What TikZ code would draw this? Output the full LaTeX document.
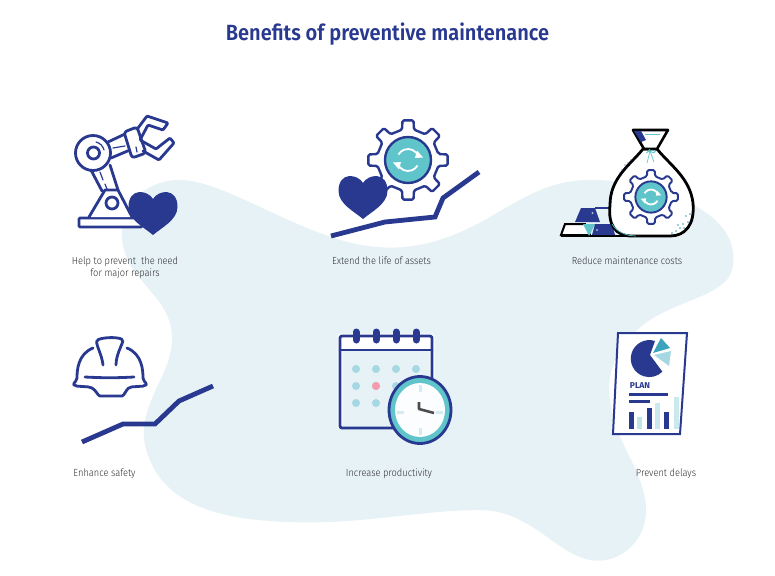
\documentclass[tikz,border=0pt]{standalone}
\usepackage{fontspec}
\setmainfont{Fira Sans}
\newfontfamily\lightfont[FakeStretch=0.9]{Fira Sans Light}
\newfontfamily\titlefont[FakeStretch=0.91]{Fira Sans SemiBold}
\definecolor{navy}{HTML}{28398F}
\definecolor{blob}{HTML}{E6F2F6}
\definecolor{tealfill}{HTML}{5FC5CB}
\definecolor{paleblue}{HTML}{A6D8E3}
\definecolor{midteal}{HTML}{3BA3BC}
\definecolor{pinkdot}{HTML}{F79AAE}
\definecolor{labelgray}{HTML}{303030}
\tikzset{
  >=latex,
  label/.style={text=labelgray, font=\lightfont\fontsize{10.3}{12}\selectfont, align=center, inner sep=0pt},
  icon/.style={draw=navy, line width=2.8pt, line join=round, line cap=round},
  thinicon/.style={draw=navy, line width=1.2pt, line cap=round},
  graphline/.style={draw=navy, line width=4.8pt, line join=miter},
  heart/.pic={
    \fill[navy] (0,-1) .. controls (5,-10) and (24.5,-13) .. (24.5,7)
      .. controls (24.5,20) and (8,28) .. (0,35)
      .. controls (-8,28) and (-24.5,20) .. (-24.5,7)
      .. controls (-24.5,-13) and (-5,-10) .. (0,-1) -- cycle;
  },
  gearicon/.pic={
    \draw[draw=navy, fill=white, rounded corners=1.5pt, line join=round]
      (-11:31) \foreach \a in {0,45,...,315} {
        -- ({\a-11}:31) -- ({\a-8}:40) -- ({\a+8}:40) -- ({\a+11}:31) }
      -- cycle;
    \draw[draw=navy, fill=tealfill] (0,0) circle [radius=23pt];
    \draw[white, line width=1.8pt] (0,0) ++(20:11pt) arc [start angle=20, end angle=150, radius=11pt];
    \draw[white, line width=1.8pt] (0,0) ++(200:11pt) arc [start angle=200, end angle=330, radius=11pt];
    \fill[white] (9,-9.5) -- (15,-2.5) -- (7,-2) -- cycle;
    \fill[white] (-9,9.5) -- (-15,2.5) -- (-7,2) -- cycle;
  },
}
\begin{document}
\begin{tikzpicture}[x=1pt, y=-1pt]
\useasboundingbox (0,0) rectangle (775,575);
\fill[white] (0,0) rectangle (775,575);

% background
\fill[blob] (180,180) .. controls (215,180) and (270,215) .. (320,233)
  .. controls (370,252) and (420,258) .. (490,217)
  .. controls (525,197) and (550,180) .. (590,180)
  .. controls (630,180) and (665,190) .. (695,206)
  .. controls (725,222) and (738,245) .. (732,270)
  .. controls (725,295) and (680,300) .. (650,320)
  .. controls (620,340) and (605,370) .. (610,400)
  .. controls (615,445) and (645,470) .. (646,510)
  .. controls (646,545) and (615,565) .. (590,560)
  .. controls (555,553) and (530,510) .. (480,510)
  .. controls (420,510) and (360,525) .. (290,522)
  .. controls (220,520) and (165,505) .. (148,455)
  .. controls (130,410) and (175,375) .. (172,335)
  .. controls (170,295) and (125,280) .. (122,238)
  .. controls (120,205) and (145,180) .. (180,180) -- cycle;

\node [font=\titlefont\fontsize{22}{26}\selectfont, text=navy, inner sep=0pt] (title) at (387.5,34.5) {Benefits of preventive maintenance};

\node [label] (repairs) at (125,267.5) {Help to prevent\ \ the need\\for major repairs};
\node [label] (assets)  at (381.5,261) {Extend the life of assets};
\node [label] (costs)   at (627,261) {Reduce maintenance costs};
\node [label] (safety)  at (104.5,474) {Enhance safety};
\node [label] (product) at (389,474) {Increase productivity};
\node [label] (delays)  at (666,474) {Prevent delays};

% robot arm
\draw [icon, fill=white, rounded corners=1pt] (79,227) -- (79,218) -- (142,218) -- (142,227) -- cycle;
\draw [icon, fill=white] (89,217) -- (105,190) -- (118,190) -- (132,217);
\draw [icon] (112,203) circle [radius=6pt];
\draw [icon] (91,170) -- (102,191);
\draw [icon] (110,165) -- (118,190);
\draw [thinicon] (100,172) -- (103,180);
\draw [thinicon] (105,184) -- (107,189);
\draw [icon] (108,142) -- (125,134);
\draw [icon] (111,158) -- (130,150);
\draw [thinicon] (113,148) -- (125,146);
\draw [icon] (93,153) circle [radius=17.5pt];
\draw [icon] (93.5,153) circle [radius=6pt];
\draw [thinicon] (96,142) .. controls (100,143) and (103,146) .. (104,150);
\draw [icon, fill=white, rounded corners=3pt] (124,132) -- (137,127) -- (146,153) -- (132,158) -- cycle;
\draw [thinicon] (136,147) -- (137,152);
\draw [icon, rounded corners=1pt] (138,128) -- (147,116) -- (168,123) -- (163,130) -- (148,125) -- (140,140)
  -- (156,149) -- (170,138) -- (174,143) -- (159,160) -- (143,151);
\pic at (153,200) {heart};

% gear and rising line
\draw [graphline] (331,236) -- (385,222) -- (435,217) -- (443,198) -- (479,172);
\pic [line width=2.4pt] at (408,160) {gearicon};
\pic at (363,184) {heart};

% money bag
\draw [black, line width=2pt] (560.5,235.5) -- (636,235.5);
\draw [line width=2pt, fill=white] (561,235) -- (565,224) -- (585,224) -- (590,235) -- cycle;
\fill [navy] (575,222) -- (581,208) -- (595,208) -- (600,222) -- cycle;
\draw [navy, line width=1.5pt] (595,208) -- (612,208);
\fill [tealfill] (583,224) -- (595,224) -- (589,236) -- cycle;
\fill [navy] (592,235) -- (595,224) -- (612,224) -- (615,235) -- cycle;
\draw [black, line width=2.8pt, fill=white, line join=round] (643,149) .. controls (630,165) and (610,178) .. (610,205)
  .. controls (608,225) and (615,236) .. (632,236)
  -- (670,236) .. controls (685,236) and (695,225) .. (693,203)
  .. controls (690,178) and (670,165) .. (657,149) -- cycle;
\draw [black, line width=2.6pt, fill=white, line join=round] (633,130) -- (668,130) -- (657,149) -- (644,149) -- cycle;
\fill [navy] (634,131) -- (641,131) -- (646,140) -- (641,142) -- cycle;
\draw [tealfill, line width=.7pt] (645,134) -- (660,134);
\draw [tealfill, line width=.7pt] (650,149) .. controls (644,156) and (646,152) .. (650,151) .. controls (658,148) and (656,156) .. (650,151);
\draw [tealfill, line width=.7pt] (650,151) -- (647,163);
\draw [tealfill, line width=.7pt] (650,151) -- (654,162);
\draw [tealfill, line width=.7pt] (612,224) .. controls (616,231) and (625,236) .. (636,236);
\foreach \p in {(683,224),(688,222),(680,228),(676,231),(686,216),(672,233),(684,228),(690,214),(678,225)}
  \fill [midteal] \p circle [radius=.8pt];
\foreach \p in {(625,165),(628,163),(622,170),(631,160),(626,168),(620,173)}
  \fill [navy] \p circle [radius=.7pt];
\foreach \px/\py/\n in {592.5/214/plusa,578.5/228/plusb,597/231/plusc}
  \node [text=white, font=\fontsize{6}{6}\selectfont, inner sep=0pt] (\n) at (\px,\py) {+};
\pic [scale=0.68, line width=1.9pt] at (651,197) {gearicon};

% helmet
\draw [icon, rounded corners=2pt] (93,348) .. controls (78,354) and (77,370) .. (77,380)
  -- (73,384) -- (75,386) -- (90,387) .. controls (96,390) and (98,396) .. (102,396)
  -- (120,396) .. controls (124,396) and (126,390) .. (130,387) -- (145,386) -- (147,384) -- (143,380)
  .. controls (143,370) and (142,354) .. (127,348);
\draw [icon, rounded corners=1.5pt] (103,365) .. controls (102,355) and (96,345) .. (97,340)
  .. controls (105,337) and (118,337) .. (123,340) .. controls (122,345) and (116,355) .. (116,365);
\draw [icon] (85,377) .. controls (105,378) and (115,378) .. (134,377);
\draw [graphline] (82,442) -- (123,424) -- (155,424) -- (179,401) -- (213,386);

% calendar
\draw [white, line width=5pt, rounded corners=2pt] (340,428) -- (340,336) -- (432,336) -- (432,400);
\fill [white, rounded corners=2pt] (340,336) rectangle (432,350);
\draw [icon, rounded corners=2pt] (395,428) -- (340,428) -- (340,336) -- (432,336) -- (432,385);
\draw [icon] (340,350) -- (432,350);
\foreach \x in {356,376,396,416} {
  \draw [navy, line width=7pt, line cap=round] (\x,332) -- (\x,340);
  \foreach \y in {369,386,403}
    \fill [paleblue] (\x,\y) circle [radius=4pt];
}
\fill [pinkdot] (376,386) circle [radius=4pt];
\draw [draw=navy, line width=2.8pt, fill=tealfill] (420,410) ellipse [x radius=31pt, y radius=33.5pt];
\fill [white!85!blob] (420,410) ellipse [x radius=25pt, y radius=27pt];
\foreach \xa/\ya/\xb/\yb in {420/385/420/392, 420/428/420/435, 397/412/404/412, 436/412/443/412}
  \draw [paleblue!50!white, line width=3pt] (\xa,\ya) -- (\xb,\yb);
\draw [black!70, line width=2.6pt, line join=round] (419,402) -- (419,409) -- (434,413);

% plan
\draw [draw=navy, line width=2pt, fill=white] (618,333) -- (687,333) -- (680,434) -- (613,434) -- cycle;
\fill [navy] (655,341) arc [start angle=72, end angle=315, radius=18.5pt] -- (650,355) -- cycle;
\fill [midteal] (653,353) -- (661,338) -- (670,348) -- cycle;
\fill [paleblue] (654,355) -- (671,351) -- (669,366) -- cycle;
\node [text=navy, font=\fontsize{8.5}{10}\selectfont\bfseries, inner sep=0pt] (plan) at (640,386) {PLAN};
\draw [navy, line width=2.2pt] (629,394.5) -- (668,394.5);
\draw [navy, line width=2.2pt] (629,401.5) -- (650,401.5);
\foreach \x/\y/\c in {631/412/navy, 639/417/paleblue!70!white, 649/408/navy, 657/403/paleblue!60!white, 666/412/navy, 676/397/paleblue!60!white}
  \fill [\c] (\x-2.5,\y) rectangle (\x+2.5,429);
\end{tikzpicture}
\end{document}
